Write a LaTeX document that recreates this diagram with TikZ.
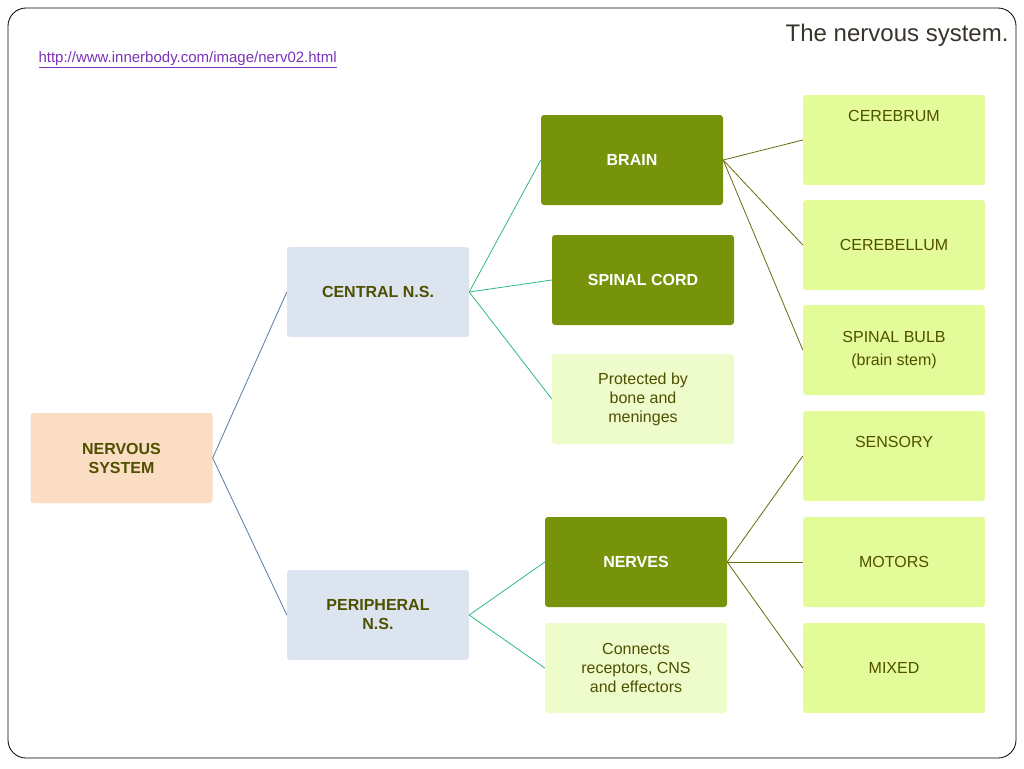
\documentclass[tikz,border=0pt]{standalone}
\usepackage{fontspec}
\setmainfont{Liberation Sans}
\begin{document}
\begin{tikzpicture}[x=1pt,y=-1pt,
 box/.style={rounded corners=3pt,minimum width=182pt,minimum height=90pt,align=center,font=\fontsize{16}{19}\selectfont,inner sep=2pt},
 root/.style={box,fill=peach,text=olivet,font=\fontsize{16}{19}\selectfont\bfseries},
 mid/.style={box,fill=bluegray,text=olivet,font=\fontsize{16}{19}\selectfont\bfseries},
 dark/.style={box,fill=greenbox,text=white,font=\fontsize{16}{19}\selectfont\bfseries},
 pale/.style={box,fill=palebox,text=olivet},
 lime/.style={box,fill=limebox,text=olivet},
 lb/.style={draw=lineblue,line width=0.8pt},
 lg/.style={draw=linegreen,line width=0.8pt},
 lo/.style={draw=lineolive,line width=0.8pt}]
\definecolor{peach}{HTML}{FBDDC3}
\definecolor{olivet}{HTML}{4F4F00}
\definecolor{bluegray}{HTML}{DCE4EF}
\definecolor{greenbox}{HTML}{76930A}
\definecolor{palebox}{HTML}{EEFBCB}
\definecolor{limebox}{HTML}{E3FB98}
\definecolor{lineblue}{HTML}{5A7AA6}
\definecolor{linegreen}{HTML}{2DB880}
\definecolor{lineolive}{HTML}{6A6A10}
\useasboundingbox (0,0) rectangle (1024,768);
\draw[black,line width=0.8pt,rounded corners=18pt] (8,8) rectangle (1016,758);
\node[font=\fontsize{24}{28}\selectfont,text=black!80!olive,anchor=east] (title) at (1012,35) {The nervous system.};
\node[font=\fontsize{15}{18}\selectfont,text=violet!70!blue!80!white,anchor=west] (url) at (35,60) {\underline{http://www.innerbody.com/image/nerv02.html}};
\node[root] (ns) at (121.5,458) {NERVOUS\\SYSTEM};
\node[mid] (cns) at (378,292) {CENTRAL N.S.};
\node[mid] (pns) at (378,615) {PERIPHERAL\\N.S.};
\node[dark] (brain) at (632,160) {BRAIN};
\node[dark] (sc) at (643,280) {SPINAL CORD};
\node[pale] (prot) at (643,399) {Protected by\\bone and\\meninges};
\node[dark] (nerves) at (636,562) {NERVES};
\node[pale] (conn) at (636,668) {Connects\\receptors, CNS\\and effectors};
\node[lime] (cbr) at (894,140) {CEREBRUM\\[30pt]};
\node[lime] (cbl) at (894,245) {CEREBELLUM};
\node[lime] (sb) at (894,350) {SPINAL BULB\\[4pt](brain stem)};
\node[lime] (sen) at (894,456) {SENSORY\\[10pt]};
\node[lime] (mot) at (894,562) {MOTORS};
\node[lime] (mix) at (894,668) {MIXED};
\draw[lb] (ns.east) -- (cns.west);
\draw[lb] (ns.east) -- (pns.west);
\draw[lg] (cns.east) -- (brain.west);
\draw[lg] (cns.east) -- (sc.west);
\draw[lg] (cns.east) -- (prot.west);
\draw[lg] (pns.east) -- (nerves.west);
\draw[lg] (pns.east) -- (conn.west);
\draw[lo] (brain.east) -- (cbr.west);
\draw[lo] (brain.east) -- (cbl.west);
\draw[lo] (brain.east) -- (sb.west);
\draw[lo] (nerves.east) -- (sen.west);
\draw[lo] (nerves.east) -- (mot.west);
\draw[lo] (nerves.east) -- (mix.west);
\end{tikzpicture}
\end{document}
